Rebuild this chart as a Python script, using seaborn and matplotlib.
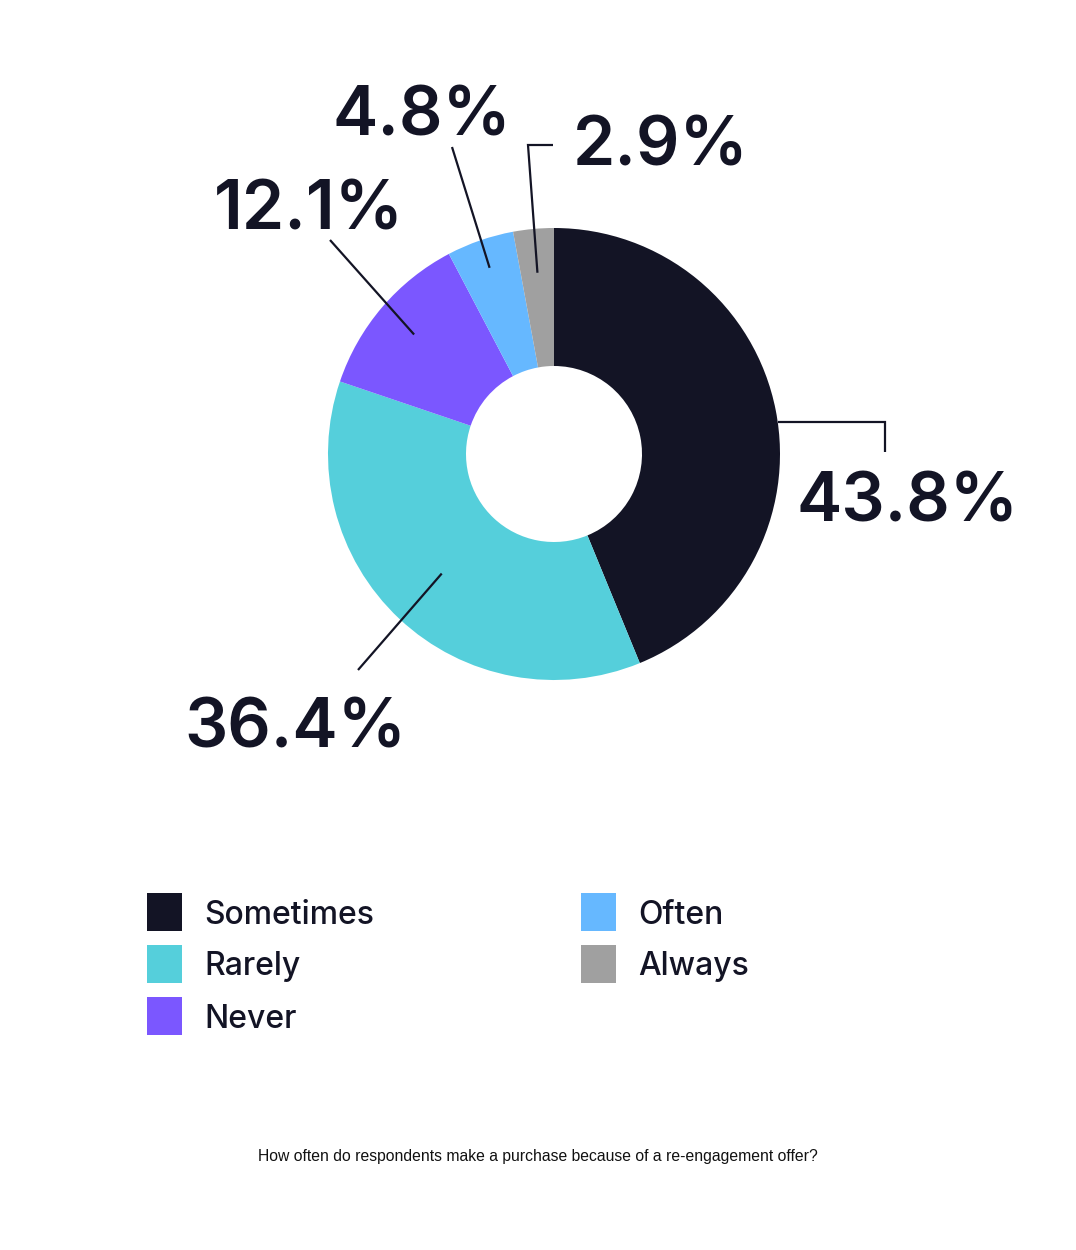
import numpy as np
import matplotlib
matplotlib.use("Agg")
import matplotlib.pyplot as plt
import seaborn as sns

categories = ["Sometimes", "Rarely", "Never", "Often", "Always"]
values = [43.8, 36.4, 12.1, 4.8, 2.9]
labels = ["43.8%", "36.4%", "12.1%", "4.8%", "2.9%"]
colors = ["#131425", "#55CFDB", "#7B57FF", "#66B8FF", "#A0A0A0"]
caption = "How often do respondents make a purchase because of a re-engagement offer?"

sns.set_theme(style="white")
plt.rcParams['font.family'] = ['Inter', 'DejaVu Sans']

W, H = 1076, 1250
fig = plt.figure(figsize=(W / 100, H / 100), dpi=100)
ax = fig.add_axes([0, 0, 1, 1])

def Y(y):
    return H - y

cx, cy, R = 554, 454, 226
hole = 88
wedges, _ = ax.pie(values, colors=colors, startangle=90, counterclock=False,
                   center=(cx, Y(cy)), radius=R, frame=True,
                   wedgeprops=dict(width=R - hole, linewidth=0))
ax.set_xlim(0, W)
ax.set_ylim(0, H)
ax.axis("off")

ink = "#131425"
# leader lines: anchor radius per wedge, then layout path (image coords)
anchor_r = [None, 164, 184, 197, 182]
paths = [
    [(885, 422), (885, 452)],
    [(358, 670)],
    [(330, 240)],
    [(452, 147)],
    [(528, 145), (553, 145)],
]
for i, w in enumerate(wedges):
    mid = np.deg2rad((w.theta1 + w.theta2) / 2)
    if anchor_r[i] is None:
        ay = 422
        ax_ = cx + np.sqrt(R ** 2 - (cy - ay) ** 2)
    else:
        ax_ = cx + anchor_r[i] * np.cos(mid)
        ay = cy - anchor_r[i] * np.sin(mid)
    pts = [(ax_, ay)] + paths[i]
    ax.plot([p[0] for p in pts], [Y(p[1]) for p in pts], color=ink, lw=1.6,
            solid_joinstyle="miter", solid_capstyle="butt")

label_pos = [(908, 522), (295, 747), (309, 229), (422, 136), (661, 166)]
for lab, (x, y) in zip(labels, label_pos):
    ax.text(x, Y(y), lab, ha="center", va="baseline", fontsize=49,
            fontweight="semibold", color=ink)

# legend
sq_w, sq_h = 35, 38
leg_pos = [(147, 893), (147, 945), (147, 997), (581, 893), (581, 945)]
for cat, col, (x, y) in zip(categories, colors, leg_pos):
    ax.add_patch(plt.Rectangle((x, Y(y + sq_h)), sq_w, sq_h, color=col, lw=0))
    ax.text(x + 57, Y(y + sq_h / 2 + 3), cat, ha="left", va="center", fontsize=23,
            fontweight="medium", color=ink)

ax.text(538, Y(1157), caption, ha="center", va="center", fontsize=11.3,
        family=["Liberation Sans", "DejaVu Sans"], color="#111111")

fig.savefig("out.png", dpi=100, facecolor="white")
